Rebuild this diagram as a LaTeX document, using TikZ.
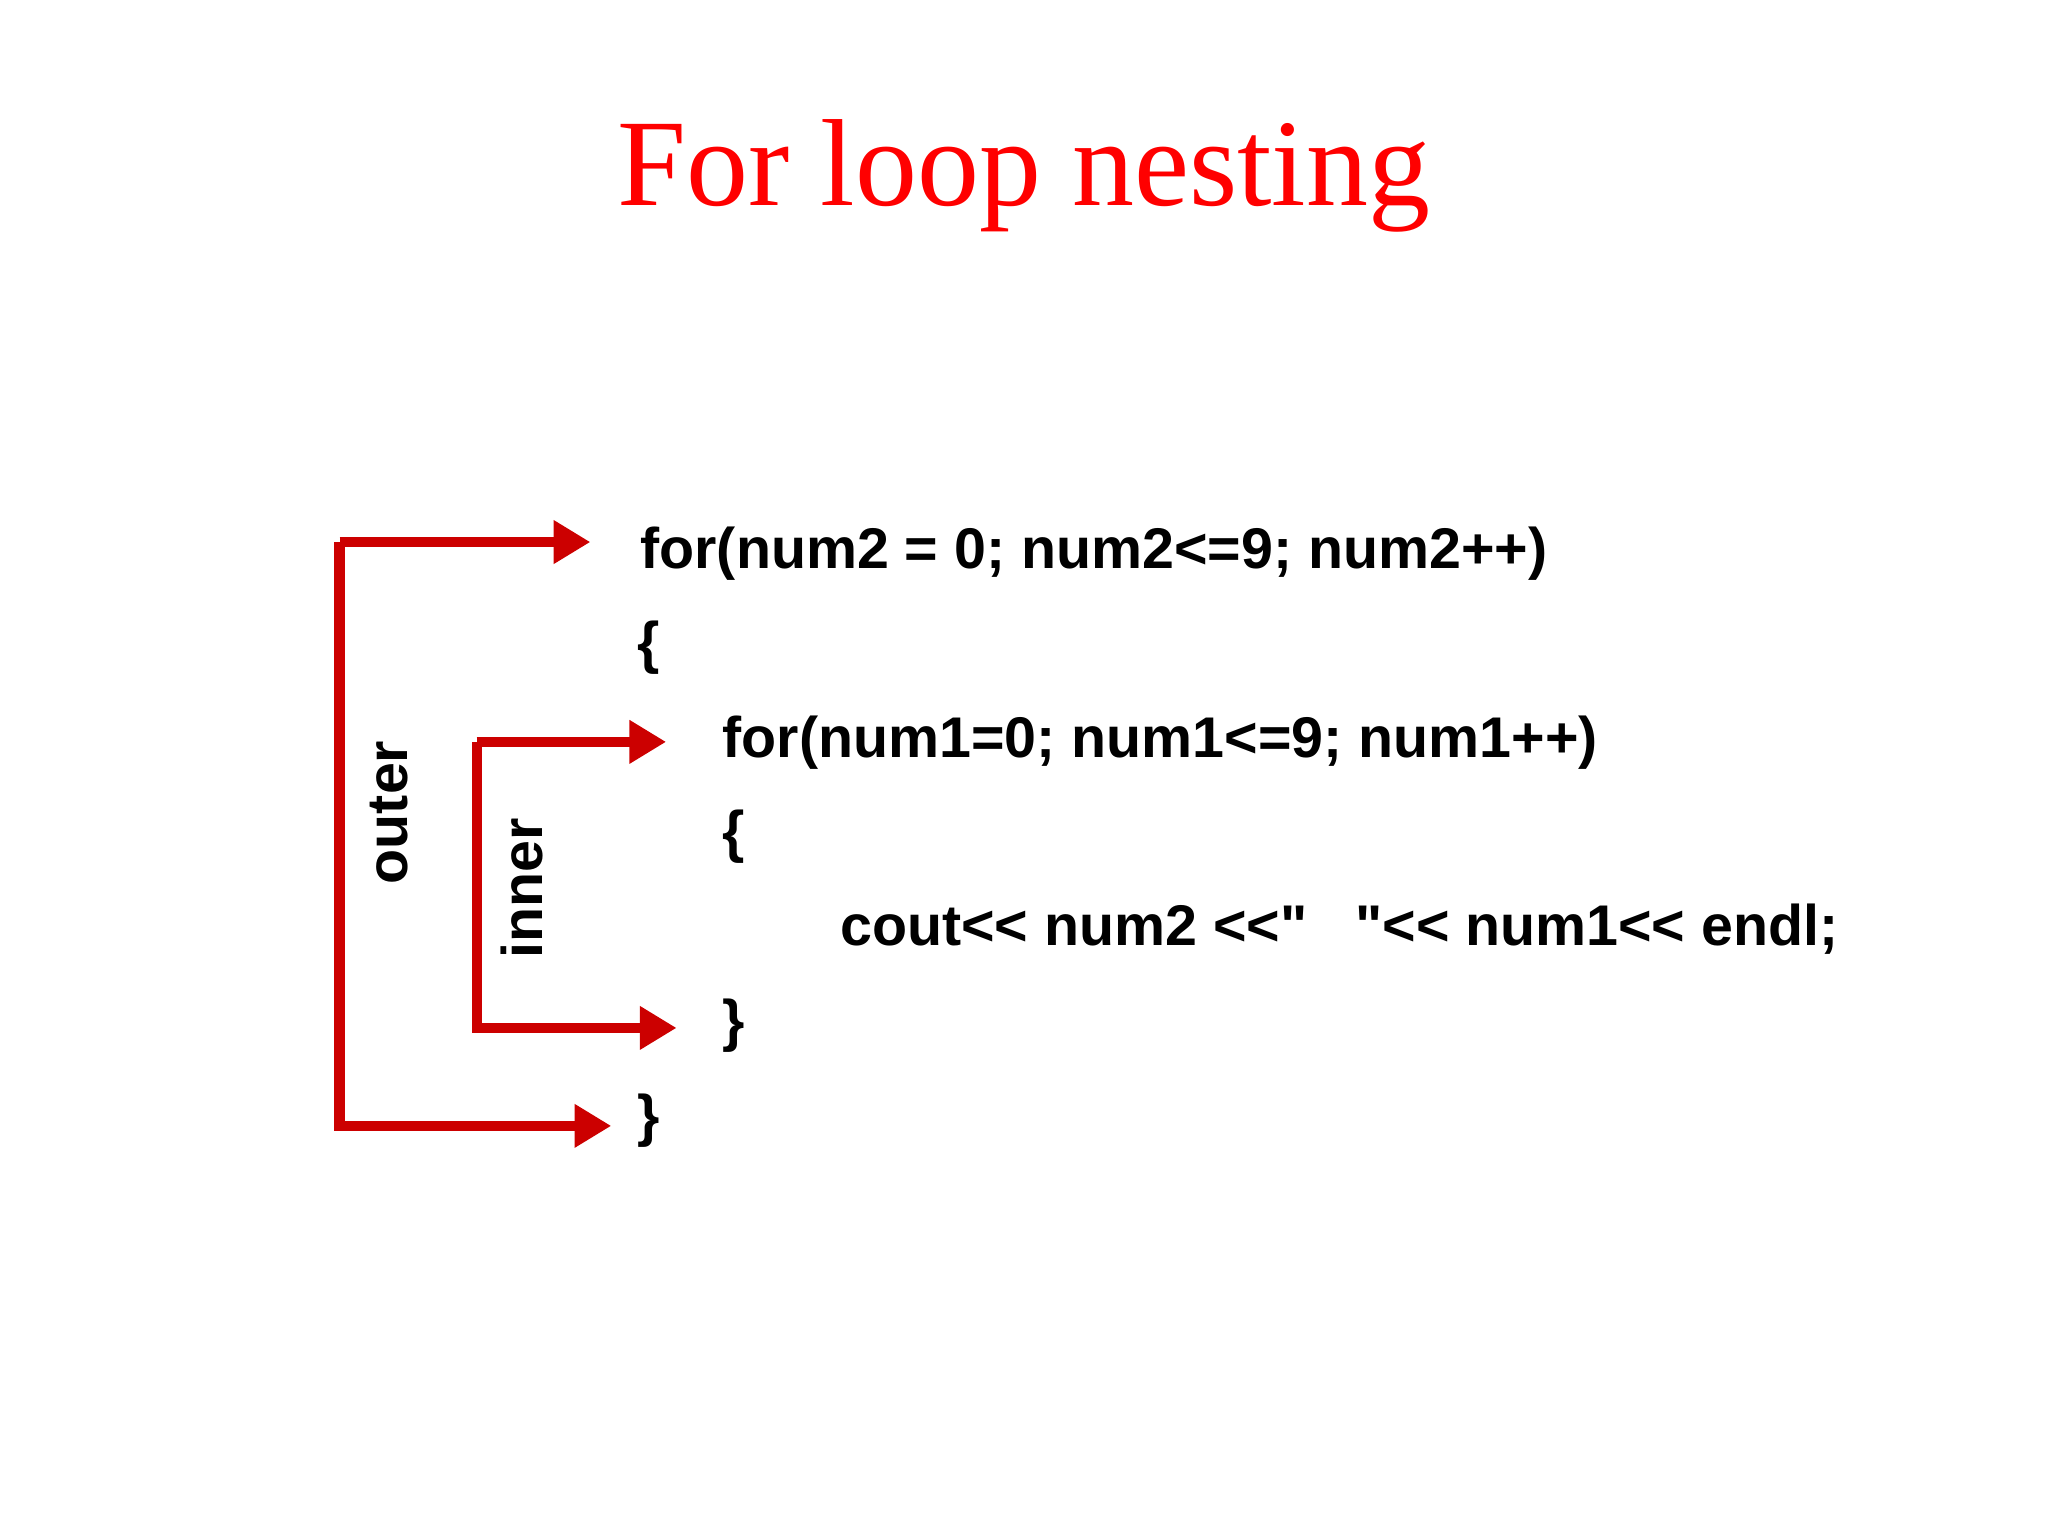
\documentclass[tikz,border=0pt]{standalone}
\usepackage{fontspec}
\setmainfont{Liberation Serif}
\setsansfont{Liberation Sans}[Ligatures=TeXOff]
\usetikzlibrary{arrows.meta}
\definecolor{ared}{HTML}{CC0000}
\begin{document}
\begin{tikzpicture}[x=0.02cm,y=-0.02cm,
  code/.style={anchor=base west,inner sep=0pt,font=\sffamily\bfseries\fontsize{25}{30}\selectfont},
  lbl/.style={rotate=90,inner sep=0pt,font=\sffamily\bfseries\fontsize{25}{28}\selectfont},
  loop/.style={draw=ared,line width=4.5pt,-{Triangle[length=16pt,width=18pt]}}]
\useasboundingbox (0,0) rectangle (1568,1176);
\node[text=red,font=\fontsize{54}{60}\selectfont] (title) at (784,135) {For loop nesting};
\node[code] (l1) at (490,435) {for(num2 = 0; num2<=9; num2++)};
\node[code] (l2) at (488,507) {\{};
\node[code] (l3) at (553,580) {for(num1=0; num1<=9; num1++)};
\node[code] (l4) at (553,652) {\{};
\node[code] (l5) at (643,724) {cout<< num2 <<"\ \ \ "<< num1<< endl;};
\node[code] (l6) at (553,797) {\}};
\node[code] (l7) at (488,869) {\}};
\coordinate (o1) at (260,415); \coordinate (o2) at (260,862);
\coordinate (oa) at (452,415); \coordinate (ob) at (468,862);
\coordinate (i1) at (365,568); \coordinate (i2) at (365,787);
\coordinate (ia) at (510,568); \coordinate (ib) at (518,787);
\draw[loop] (o1) -- (oa);
\draw[loop] (o1) -- (o2) -- (ob);
\draw[loop] (i1) -- (ia);
\draw[loop] (i1) -- (i2) -- (ib);
\node[lbl] (outer) at (298,622) {outer};
\node[lbl] (inner) at (400,680) {inner};
\end{tikzpicture}
\end{document}
